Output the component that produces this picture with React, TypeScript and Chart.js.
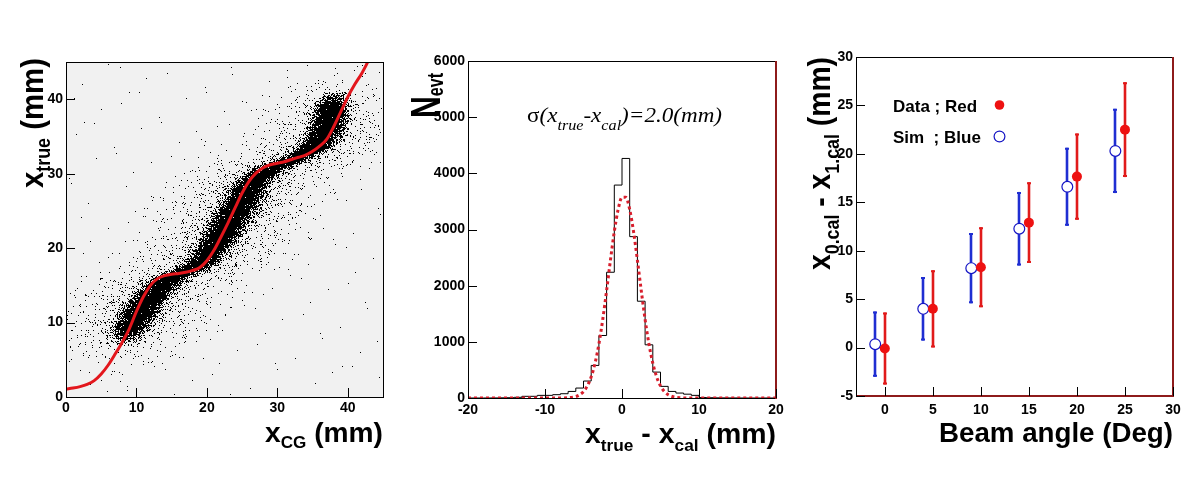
import { useEffect, useRef } from 'react';
import { Chart, registerables } from 'chart.js';

Chart.register(...registerables);

const SANS = '"Liberation Sans", Arial, Helvetica, sans-serif';
const SERIF = '"Liberation Serif", "Times New Roman", Times, serif';
const PAGE_W = 1196;
const PAGE_H = 486;

// ---------- left panel: x_true versus x_CG ----------
// calibration curve (red)
const calibX = [0, 1, 2, 3, 4, 5, 6, 7, 8, 9, 10, 11, 12, 13, 14, 15, 16, 17, 18, 19, 20, 21, 22, 23, 24, 25, 26, 27, 28, 29, 30, 31, 32, 33, 34, 35, 36, 37, 38, 39, 40, 41, 42, 43];
const calibY = [1.05, 1.2, 1.4, 1.7, 2.2, 3.1, 4.3, 5.8, 7.4, 9.2, 11.5, 13.5, 15.0, 15.9, 16.3, 16.5, 16.6, 16.75, 17.0, 17.4, 18.3, 19.7, 21.5, 23.4, 25.4, 27.4, 29.0, 30.1, 30.8, 31.2, 31.4, 31.6, 31.9, 32.2, 32.5, 33.0, 33.7, 34.6, 36.3, 38.3, 40.3, 42.0, 43.5, 45.3];
// event band: one slice per mm of x_true, with the x_CG centre, x_CG spread and number of events
const bandY = [8, 9, 10, 11, 12, 13, 14, 15, 16, 17, 18, 19, 20, 21, 22, 23, 24, 25, 26, 27, 28, 29, 30, 31, 32, 33, 34, 35, 36, 37, 38, 39, 40];
const bandX = [8.6, 9.1, 9.6, 10.2, 10.9, 11.7, 12.6, 13.6, 15.0, 17.4, 19.3, 20.1, 20.9, 21.6, 22.3, 22.9, 23.5, 24.1, 24.8, 25.4, 26.0, 26.7, 27.9, 29.8, 32.6, 34.4, 35.8, 36.5, 37.0, 37.3, 37.5, 37.7, 38.0];
const bandSigma = [1.1, 1.15, 1.2, 1.25, 1.25, 1.25, 1.25, 1.2, 1.2, 1.2, 1.15, 1.15, 1.15, 1.2, 1.25, 1.3, 1.3, 1.3, 1.3, 1.25, 1.25, 1.2, 1.2, 1.2, 1.2, 1.15, 1.15, 1.15, 1.15, 1.15, 1.1, 1.1, 1.0];
const bandCount = [180, 600, 780, 780, 780, 740, 670, 620, 600, 600, 600, 650, 720, 760, 780, 780, 780, 780, 760, 720, 700, 650, 600, 560, 560, 600, 700, 780, 780, 780, 740, 620, 240];
const haloCount = [110, 110, 110, 100, 100, 100, 100, 100, 100, 100, 100, 100, 100, 100, 100, 100, 100, 100, 100, 100, 100, 100, 100, 100, 95, 95, 90, 90, 90, 80, 70, 60, 40];
const strayCount = 180;
const scatterXTicks = [0, 10, 20, 30, 40];
const scatterYTicks = [0, 10, 20, 30, 40];

// ---------- middle panel: residual distribution ----------
const histLow = [-20, -19, -18, -17, -16, -15, -14, -13, -12, -11, -10, -9, -8, -7, -6, -5, -4, -3, -2, -1, 0, 1, 2, 3, 4, 5, 6, 7, 8, 9, 10, 11, 12, 13, 14, 15, 16, 17, 18, 19];
const histCounts = [0, 0, 0, 1, 3, 5, 12, 30, 30, 47, 47, 59, 76, 117, 177, 302, 580, 1113, 2239, 3791, 4265, 2873, 1723, 947, 461, 207, 117, 88, 68, 47, 8, 5, 3, 2, 1, 0, 0, 0, 0, 0];
const histHigh = 20;
const fitX = [-20, -8, -7, -6, -5.5, -5, -4.5, -4, -3.5, -3, -2.5, -2, -1.5, -1, -0.5, 0, 0.5, 1, 1.5, 2, 2.5, 3, 3.5, 4, 4.5, 5, 5.5, 6, 6.5, 7, 7.5, 8, 9, 20];
const fitY = [0, 1, 5, 27, 58, 115, 215, 377, 621, 961, 1399, 1912, 2455, 2962, 3356, 3572, 3572, 3356, 2962, 2455, 1912, 1399, 961, 621, 377, 215, 115, 58, 27, 12, 5, 2, 0, 0];
const residXTicks = [-20, -10, 0, 10, 20];
const residYTicks = [0, 1000, 2000, 3000, 4000, 5000, 6000];

// ---------- right panel: shift versus beam angle ----------
const dataAngle = [0, 5, 10, 15, 20, 25];
const dataShift = [-0.1, 4.0, 8.3, 12.9, 17.65, 22.5];
const dataErr = [3.72, 3.98, 4.13, 4.17, 4.45, 4.9];
const simAngle = [-1, 4, 9, 14, 19, 24];
const simShift = [0.35, 4.0, 8.2, 12.27, 16.6, 20.3];
const simErr = [3.37, 3.28, 3.63, 3.8, 4.03, 4.35];
const angleTicks = [0, 5, 10, 15, 20, 25, 30];
const shiftTicks = [-5, 0, 5, 10, 15, 20, 25, 30];

type Pt = { x: number; y: number };
const zip = (xs: number[], ys: number[]): Pt[] => xs.map((x, i) => ({ x, y: ys[i] }));

// low-discrepancy sequence used to spread the events of each slice
function radicalInverse(i: number, base: number): number {
  let f = 1;
  let r = 0;
  let n = i;
  while (n > 0) {
    f /= base;
    r += f * (n % base);
    n = Math.floor(n / base);
  }
  return r;
}

function bandCentre(y: number): number {
  if (y <= bandY[0]) return bandX[0] + (y - bandY[0]) * 0.5;
  const last = bandY.length - 1;
  if (y >= bandY[last]) return bandX[last] + (y - bandY[last]) * 0.5;
  for (let i = 0; i < last; i++) {
    if (y <= bandY[i + 1]) {
      const t = (y - bandY[i]) / (bandY[i + 1] - bandY[i]);
      return bandX[i] + t * (bandX[i + 1] - bandX[i]);
    }
  }
  return bandX[last];
}

function buildEvents(): Pt[] {
  const pts: Pt[] = [];
  let n = 1;
  const push = (x: number, y: number) => {
    if (x > 0.05 && x < 44.95 && y > 0.05 && y < 44.95) pts.push({ x, y });
  };
  const normals = (k: number) => {
    const u1 = Math.max(radicalInverse(k, 2), 1e-9);
    const u2 = radicalInverse(k, 3);
    const rad = Math.sqrt(-2 * Math.log(u1));
    return [rad * Math.cos(2 * Math.PI * u2), rad * Math.sin(2 * Math.PI * u2), radicalInverse(k, 5)];
  };
  bandY.forEach((yc, r) => {
    for (let k = 0; k < bandCount[r]; k++, n++) {
      const [gx, gy, u] = normals(n);
      const y = yc - 0.5 + u + 0.35 * gy;
      push(bandCentre(y) + bandSigma[r] * gx, y);
    }
    for (let k = 0; k < haloCount[r]; k++, n++) {
      const [gx, gy, u] = normals(n);
      const y = yc - 0.5 + u + 2.6 * gy;
      push(bandCentre(y) + 5.2 * gx, y);
    }
  });
  for (let k = 0; k < strayCount; k++, n++) {
    push(45 * radicalInverse(n, 7), 45 * radicalInverse(n, 11));
  }
  return pts;
}

// ---------- drawing helpers ----------
type Seg = { t: string; sub?: boolean; font?: string };
type TextSpec = {
  segs: Seg[];
  x: number;
  y: number;
  align: 'left' | 'right';
  rotate?: boolean;
  font: string;
  subFont: string;
  subShift: number;
  len?: number;
  stretch?: number;
};

function drawRich(ctx: CanvasRenderingContext2D, s: TextSpec) {
  ctx.save();
  const fontOf = (g: Seg) => g.font ?? (g.sub ? s.subFont : s.font);
  const widths = s.segs.map((g) => {
    ctx.font = fontOf(g);
    return ctx.measureText(g.t).width;
  });
  const total = widths.reduce((a, b) => a + b, 0);
  const k = s.len ? s.len / total : 1;
  const st = s.stretch ?? 1;
  ctx.translate(s.x, s.y);
  if (s.rotate) ctx.rotate(-Math.PI / 2);
  ctx.scale(k, st);
  ctx.fillStyle = '#000';
  ctx.textAlign = 'left';
  ctx.textBaseline = 'alphabetic';
  let cx = s.align === 'right' ? -total : 0;
  s.segs.forEach((g, i) => {
    ctx.font = fontOf(g);
    ctx.fillText(g.t, cx, g.sub ? s.subShift / st : 0);
    cx += widths[i];
  });
  ctx.restore();
}

type Side = [string, number];
function drawFrame(chart: Chart, top: Side, right: Side, bottom: Side, left: Side) {
  const { ctx, chartArea: a } = chart;
  const al = (v: number, w: number) => (w % 2 === 1 ? Math.round(v) + 0.5 : Math.round(v));
  const line = (x1: number, y1: number, x2: number, y2: number, [c, w]: Side) => {
    ctx.strokeStyle = c;
    ctx.lineWidth = w;
    ctx.beginPath();
    ctx.moveTo(x1, y1);
    ctx.lineTo(x2, y2);
    ctx.stroke();
  };
  ctx.save();
  line(a.left, al(a.top, top[1]), a.right, al(a.top, top[1]), top);
  line(a.left, al(a.bottom, bottom[1]), a.right + 1, al(a.bottom, bottom[1]), bottom);
  line(al(a.left, left[1]), a.top, al(a.left, left[1]), a.bottom, left);
  line(al(a.right, right[1]), a.top, al(a.right, right[1]), a.bottom + 1, right);
  ctx.restore();
}

function drawInwardTicks(chart: Chart, len: number) {
  const { ctx, chartArea: a } = chart;
  const xs = chart.scales.x;
  const ys = chart.scales.y;
  ctx.save();
  ctx.strokeStyle = '#000';
  ctx.lineWidth = 1;
  ctx.beginPath();
  xs.ticks.forEach((t) => {
    const px = Math.round(xs.getPixelForValue(t.value)) + 0.5;
    ctx.moveTo(px, a.bottom);
    ctx.lineTo(px, a.bottom - len);
  });
  ys.ticks.forEach((t) => {
    const py = Math.round(ys.getPixelForValue(t.value)) + 0.5;
    ctx.moveTo(a.left, py);
    ctx.lineTo(a.left + len, py);
  });
  ctx.stroke();
  ctx.restore();
}

const tickFont = { family: SANS, weight: 'bold' as const, size: 14 };

function linScale(min: number, max: number, ticks: number[], axis: 'x' | 'y', size: number, pad: number) {
  return {
    type: 'linear' as const,
    min,
    max,
    grid: { display: false, drawTicks: false },
    border: { display: false },
    afterBuildTicks: (s: any) => {
      s.ticks = ticks.map((v) => ({ value: v }));
    },
    afterFit: (s: any) => {
      if (axis === 'x') s.height = size;
      else s.width = size;
    },
    ticks: {
      font: tickFont,
      color: '#000',
      padding: pad,
      autoSkip: false,
      maxRotation: 0,
      callback: (v: any) => String(v),
    },
  };
}

function baseOptions(padding: any, x: any, y: any) {
  return {
    responsive: false,
    animation: false as const,
    devicePixelRatio: 1,
    events: [] as any[],
    layout: { padding },
    plugins: { legend: { display: false }, tooltip: { enabled: false } },
    scales: { x, y },
  };
}

const bold = (px: number) => `bold ${px}px ${SANS}`;
const BLACK: Side = ['#000', 1];
const MAROON: Side = ['#8e1b1b', 2];

// ---------- panels ----------
function buildScatterPanel(canvas: HTMLCanvasElement): Chart {
  const events = buildEvents();
  const deco = {
    id: 'scatterDeco',
    beforeDraw(chart: Chart) {
      const { ctx, chartArea: a } = chart;
      ctx.save();
      ctx.fillStyle = '#fff';
      ctx.fillRect(0, 0, chart.width, chart.height);
      ctx.fillStyle = '#f1f1f1';
      ctx.fillRect(a.left, a.top, a.right - a.left, a.bottom - a.top);
      ctx.restore();
    },
    afterDatasetDraw(chart: Chart, args: any) {
      if (args.index !== 1) return;
      const { ctx, chartArea: a } = chart;
      ctx.save();
      ctx.fillStyle = '#000';
      args.meta.data.forEach((el: any) => {
        const px = Math.floor(el.x);
        const py = Math.floor(el.y);
        if (px > a.left && px < a.right - 1 && py > a.top && py < a.bottom - 1) ctx.fillRect(px, py, 1, 1);
      });
      ctx.restore();
    },
    afterDraw(chart: Chart) {
      const { ctx } = chart;
      drawFrame(chart, BLACK, BLACK, BLACK, BLACK);
      drawInwardTicks(chart, 9);
      drawRich(ctx, {
        segs: [{ t: 'x' }, { t: 'CG', sub: true }, { t: ' (mm)' }],
        x: 383, y: 442, align: 'right', font: bold(28), subFont: bold(17), subShift: 6, len: 118,
      });
      drawRich(ctx, {
        segs: [{ t: 'x' }, { t: 'true', sub: true }, { t: ' (mm)' }],
        x: 43, y: 58, align: 'right', rotate: true, font: bold(28), subFont: bold(17), subShift: 7, len: 130, stretch: 1.15,
      });
    },
  };
  return new Chart(canvas, {
    type: 'scatter',
    data: {
      datasets: [
        {
          type: 'line',
          data: zip(calibX, calibY),
          borderColor: '#e3161c',
          borderWidth: 3,
          pointRadius: 0,
          cubicInterpolationMode: 'monotone',
          fill: false,
          clip: 0,
        } as any,
        {
          data: events,
          pointRadius: 0,
          pointHoverRadius: 0,
          backgroundColor: '#000',
        },
      ],
    },
    options: baseOptions(
      { left: 0, top: 62, right: 17, bottom: 0 },
      linScale(0, 45, scatterXTicks, 'x', 89, 3),
      linScale(0, 45, scatterYTicks, 'y', 66, 3),
    ) as any,
    plugins: [deco],
  });
}

function buildResidualPanel(canvas: HTMLCanvasElement): Chart {
  const hist = zip([...histLow, histHigh], [...histCounts, 0]);
  const deco = {
    id: 'residDeco',
    beforeDraw(chart: Chart) {
      const { ctx } = chart;
      ctx.save();
      ctx.fillStyle = '#fff';
      ctx.fillRect(0, 0, chart.width, chart.height);
      ctx.restore();
    },
    afterDraw(chart: Chart) {
      const { ctx } = chart;
      drawFrame(chart, BLACK, MAROON, BLACK, BLACK);
      drawInwardTicks(chart, 9);
      drawRich(ctx, {
        segs: [{ t: 'x' }, { t: 'true', sub: true }, { t: ' - x' }, { t: 'cal', sub: true }, { t: ' (mm)' }],
        x: 376, y: 443, align: 'right', font: bold(28), subFont: bold(17), subShift: 8, len: 191,
      });
      drawRich(ctx, {
        segs: [{ t: 'N' }, { t: 'evt', sub: true }],
        x: 40, y: 73, align: 'right', rotate: true, font: bold(32), subFont: bold(17), subShift: 3, len: 45, stretch: 1.3,
      });
      const it = `italic 20px ${SERIF}`;
      drawRich(ctx, {
        segs: [
          { t: 'σ', font: `20px ${SERIF}` },
          { t: '(x' },
          { t: 'true', sub: true },
          { t: '-x' },
          { t: 'cal', sub: true },
          { t: ')=2.0(mm)' },
        ],
        x: 127, y: 122, align: 'left', font: it, subFont: `italic 14px ${SERIF}`, subShift: 8, len: 195,
      });
    },
  };
  return new Chart(canvas, {
    type: 'scatter',
    data: {
      datasets: [
        {
          type: 'line',
          data: zip(fitX, fitY),
          borderColor: '#d81e2c',
          borderWidth: 3,
          borderDash: [3, 3],
          borderCapStyle: 'butt',
          pointRadius: 0,
          cubicInterpolationMode: 'monotone',
          fill: false,
        } as any,
        {
          type: 'line',
          data: hist,
          borderColor: '#000',
          borderWidth: 1,
          stepped: 'before',
          pointRadius: 0,
          fill: false,
        } as any,
      ],
    },
    options: baseOptions(
      { left: 0, top: 61, right: 24, bottom: 0 },
      linScale(-20, 20, residXTicks, 'x', 88, 4),
      linScale(0, 6000, residYTicks, 'y', 68, 3),
    ) as any,
    plugins: [deco],
  });
}

function buildAnglePanel(canvas: HTMLCanvasElement): Chart {
  const RED_BAR = '#e11b1b';
  const BLUE_BAR = '#1f2ed2';
  const deco = {
    id: 'angleDeco',
    beforeDraw(chart: Chart) {
      const { ctx } = chart;
      ctx.save();
      ctx.fillStyle = '#fff';
      ctx.fillRect(0, 0, chart.width, chart.height);
      ctx.restore();
    },
    beforeDatasetsDraw(chart: Chart) {
      const { ctx } = chart;
      const xs = chart.scales.x;
      const ys = chart.scales.y;
      const bars = (xv: number[], yv: number[], ev: number[], color: string) => {
        ctx.strokeStyle = color;
        xv.forEach((xval, i) => {
          const px = Math.round(xs.getPixelForValue(xval));
          const top = ys.getPixelForValue(yv[i] + ev[i]);
          const bot = ys.getPixelForValue(yv[i] - ev[i]);
          ctx.lineWidth = 2.6;
          ctx.beginPath();
          ctx.moveTo(px, top);
          ctx.lineTo(px, bot);
          ctx.stroke();
          ctx.lineWidth = 2;
          ctx.beginPath();
          ctx.moveTo(px - 2, top + 1);
          ctx.lineTo(px + 2, top + 1);
          ctx.moveTo(px - 2, bot - 1);
          ctx.lineTo(px + 2, bot - 1);
          ctx.stroke();
        });
      };
      ctx.save();
      bars(simAngle, simShift, simErr, BLUE_BAR);
      bars(dataAngle, dataShift, dataErr, RED_BAR);
      ctx.restore();
    },
    afterDraw(chart: Chart) {
      const { ctx } = chart;
      drawFrame(chart, BLACK, MAROON, MAROON, BLACK);
      drawInwardTicks(chart, 9);
      drawRich(ctx, {
        segs: [{ t: 'Beam angle (Deg)' }],
        x: 373, y: 442, align: 'right', font: bold(28), subFont: bold(17), subShift: 0, len: 234,
      });
      drawRich(ctx, {
        segs: [{ t: 'x' }, { t: '0.cal', sub: true }, { t: ' - x' }, { t: '1.cal', sub: true }, { t: ' (mm)' }],
        x: 30, y: 57, align: 'right', rotate: true, font: bold(27), subFont: bold(17), subShift: 9, len: 213, stretch: 1.15,
      });
      // legend
      ctx.save();
      ctx.fillStyle = '#000';
      ctx.font = bold(17);
      ctx.textAlign = 'left';
      ctx.textBaseline = 'alphabetic';
      ctx.fillText('Data ; Red', 93, 112);
      ctx.fillText('Sim  ; Blue', 93, 143);
      ctx.fillStyle = '#ee1111';
      ctx.beginPath();
      ctx.arc(199.5, 105, 4.8, 0, Math.PI * 2);
      ctx.fill();
      ctx.strokeStyle = '#1414c4';
      ctx.lineWidth = 1.2;
      ctx.beginPath();
      ctx.arc(199.5, 136.5, 5.4, 0, Math.PI * 2);
      ctx.stroke();
      ctx.restore();
    },
  };
  return new Chart(canvas, {
    type: 'scatter',
    data: {
      datasets: [
        {
          label: 'Data ; Red',
          data: zip(dataAngle, dataShift),
          pointRadius: 5,
          backgroundColor: '#ee1111',
          borderColor: '#ee1111',
          borderWidth: 0,
        },
        {
          label: 'Sim ; Blue',
          data: zip(simAngle, simShift),
          pointRadius: 5.4,
          backgroundColor: '#ffffff',
          borderColor: '#1414c4',
          borderWidth: 1.2,
        },
      ],
    },
    options: baseOptions(
      { left: 0, top: 57, right: 23, bottom: 0 },
      linScale(-3, 30, angleTicks, 'x', 90, 6),
      linScale(-5, 30, shiftTicks, 'y', 56, 3),
    ) as any,
    plugins: [deco],
  });
}

function Panel({ left, width, build }: { left: number; width: number; build: (c: HTMLCanvasElement) => Chart }) {
  const ref = useRef<HTMLCanvasElement>(null);
  useEffect(() => {
    const chart = build(ref.current as HTMLCanvasElement);
    return () => chart.destroy();
  }, [build]);
  return (
    <canvas
      ref={ref}
      width={width}
      height={PAGE_H}
      style={{ position: 'absolute', left, top: 0, width, height: PAGE_H, display: 'block' }}
    />
  );
}

export default function App() {
  return (
    <div style={{ position: 'absolute', left: 0, top: 0, width: PAGE_W, height: PAGE_H, background: '#fff', overflow: 'hidden' }}>
      <Panel left={0} width={400} build={buildScatterPanel} />
      <Panel left={400} width={400} build={buildResidualPanel} />
      <Panel left={800} width={396} build={buildAnglePanel} />
    </div>
  );
}
